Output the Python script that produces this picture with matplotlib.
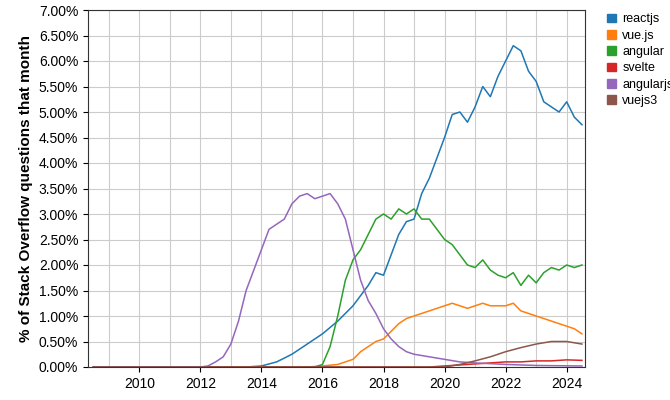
import matplotlib
matplotlib.use("Agg")
import matplotlib.pyplot as plt
from matplotlib.patches import Patch
from matplotlib.ticker import FuncFormatter, MultipleLocator

plt.rcParams['font.family'] = ['Liberation Sans', 'DejaVu Sans']

# quarterly readings (year, % of questions)
react_t = [2008.5, 2013.5, 2014, 2014.5, 2015, 2015.5, 2016, 2016.5, 2017, 2017.5, 2017.75, 2018, 2018.25, 2018.5,
           2018.75, 2019, 2019.25, 2019.5, 2019.75, 2020, 2020.25, 2020.5, 2020.75, 2021, 2021.25, 2021.5,
           2021.75, 2022, 2022.25, 2022.5, 2022.75, 2023, 2023.25, 2023.5, 2023.75, 2024, 2024.25, 2024.5]
react_v = [0, 0, 0.02, 0.1, 0.25, 0.45, 0.65, 0.9, 1.2, 1.6, 1.85, 1.8, 2.2, 2.6,
           2.85, 2.9, 3.4, 3.7, 4.1, 4.5, 4.95, 5.0, 4.8, 5.1, 5.5, 5.3,
           5.7, 6.0, 6.3, 6.2, 5.8, 5.6, 5.2, 5.1, 5.0, 5.2, 4.9, 4.75]

vue_t = [2008.5, 2015.5, 2016, 2016.5, 2017, 2017.25, 2017.5, 2017.75, 2018, 2018.25, 2018.5, 2018.75, 2019,
         2019.25, 2019.5, 2019.75, 2020, 2020.25, 2020.5, 2020.75, 2021, 2021.25, 2021.5, 2021.75, 2022,
         2022.25, 2022.5, 2022.75, 2023, 2023.25, 2023.5, 2023.75, 2024, 2024.25, 2024.5]
vue_v = [0, 0, 0.02, 0.05, 0.15, 0.3, 0.4, 0.5, 0.55, 0.7, 0.85, 0.95, 1.0,
         1.05, 1.1, 1.15, 1.2, 1.25, 1.2, 1.15, 1.2, 1.25, 1.2, 1.2, 1.2,
         1.25, 1.1, 1.05, 1.0, 0.95, 0.9, 0.85, 0.8, 0.75, 0.65]

angular_t = [2008.5, 2015.75, 2016, 2016.25, 2016.5, 2016.75, 2017, 2017.25, 2017.5, 2017.75, 2018, 2018.25,
             2018.5, 2018.75, 2019, 2019.25, 2019.5, 2019.75, 2020, 2020.25, 2020.5, 2020.75, 2021, 2021.25,
             2021.5, 2021.75, 2022, 2022.25, 2022.5, 2022.75, 2023, 2023.25, 2023.5, 2023.75, 2024, 2024.25, 2024.5]
angular_v = [0, 0, 0.05, 0.4, 1.0, 1.7, 2.1, 2.3, 2.6, 2.9, 3.0, 2.9,
             3.1, 3.0, 3.1, 2.9, 2.9, 2.7, 2.5, 2.4, 2.2, 2.0, 1.95, 2.1,
             1.9, 1.8, 1.75, 1.85, 1.6, 1.8, 1.65, 1.85, 1.95, 1.9, 2.0, 1.95, 2.0]

svelte_t = [2008.5, 2019.5, 2020, 2020.5, 2021, 2021.5, 2022, 2022.5, 2023, 2023.5, 2024, 2024.5]
svelte_v = [0, 0, 0.02, 0.04, 0.06, 0.08, 0.1, 0.1, 0.12, 0.12, 0.14, 0.13]

angularjs_t = [2008.5, 2012, 2012.25, 2012.5, 2012.75, 2013, 2013.25, 2013.5, 2013.75, 2014, 2014.25, 2014.5,
               2014.75, 2015, 2015.25, 2015.5, 2015.75, 2016, 2016.25, 2016.5, 2016.75, 2017, 2017.25, 2017.5,
               2017.75, 2018, 2018.25, 2018.5, 2018.75, 2019, 2019.5, 2020, 2020.5, 2021, 2022, 2023, 2024.5]
angularjs_v = [0, 0, 0.02, 0.1, 0.2, 0.45, 0.9, 1.5, 1.9, 2.3, 2.7, 2.8,
               2.9, 3.2, 3.35, 3.4, 3.3, 3.35, 3.4, 3.2, 2.9, 2.3, 1.7, 1.3,
               1.05, 0.75, 0.55, 0.4, 0.3, 0.25, 0.2, 0.15, 0.1, 0.08, 0.05, 0.03, 0.02]

vuejs3_t = [2008.5, 2020, 2020.5, 2021, 2021.5, 2022, 2022.5, 2023, 2023.5, 2024, 2024.5]
vuejs3_v = [0, 0, 0.05, 0.12, 0.2, 0.3, 0.38, 0.45, 0.5, 0.5, 0.45]

series = [("reactjs", react_t, react_v, "#1f77b4"),
          ("vue.js", vue_t, vue_v, "#ff7f0e"),
          ("angular", angular_t, angular_v, "#2ca02c"),
          ("svelte", svelte_t, svelte_v, "#d62728"),
          ("angularjs", angularjs_t, angularjs_v, "#9467bd"),
          ("vuejs3", vuejs3_t, vuejs3_v, "#8c564b")]

fig = plt.figure(figsize=(6.7, 4), dpi=100)
ax = fig.add_axes([88/670, 33/400, 497/670, 357/400])

for name, t, v, c in series:
    ax.plot(t, v, color=c, lw=1.1)

ax.set_xlim(2008.32, 2024.6)
ax.set_ylim(0, 7)
ax.xaxis.set_major_locator(MultipleLocator(2))
ax.yaxis.set_major_locator(MultipleLocator(0.5))
ax.xaxis.set_minor_locator(MultipleLocator(1))
ax.yaxis.set_major_formatter(FuncFormatter(lambda y, p: f"{y:.2f}%"))
ax.grid(True, which='both', color='#cccccc', lw=0.8)
ax.tick_params(which='minor', length=0)
ax.tick_params(labelsize=10)
for s in ax.spines.values():
    s.set_color('#333333')
ax.set_ylabel("% of Stack Overflow questions that month", fontsize=11, fontweight='bold')

handles = [Patch(color=c, label=n) for n, t, v, c in series]
fig.legend(handles=handles, loc='upper left', bbox_to_anchor=(596/670, 0.995), frameon=False,
           handlelength=0.7, handleheight=0.7, handletextpad=0.5, fontsize=9, labelspacing=0.35)

fig.savefig("out.png", dpi=100)
